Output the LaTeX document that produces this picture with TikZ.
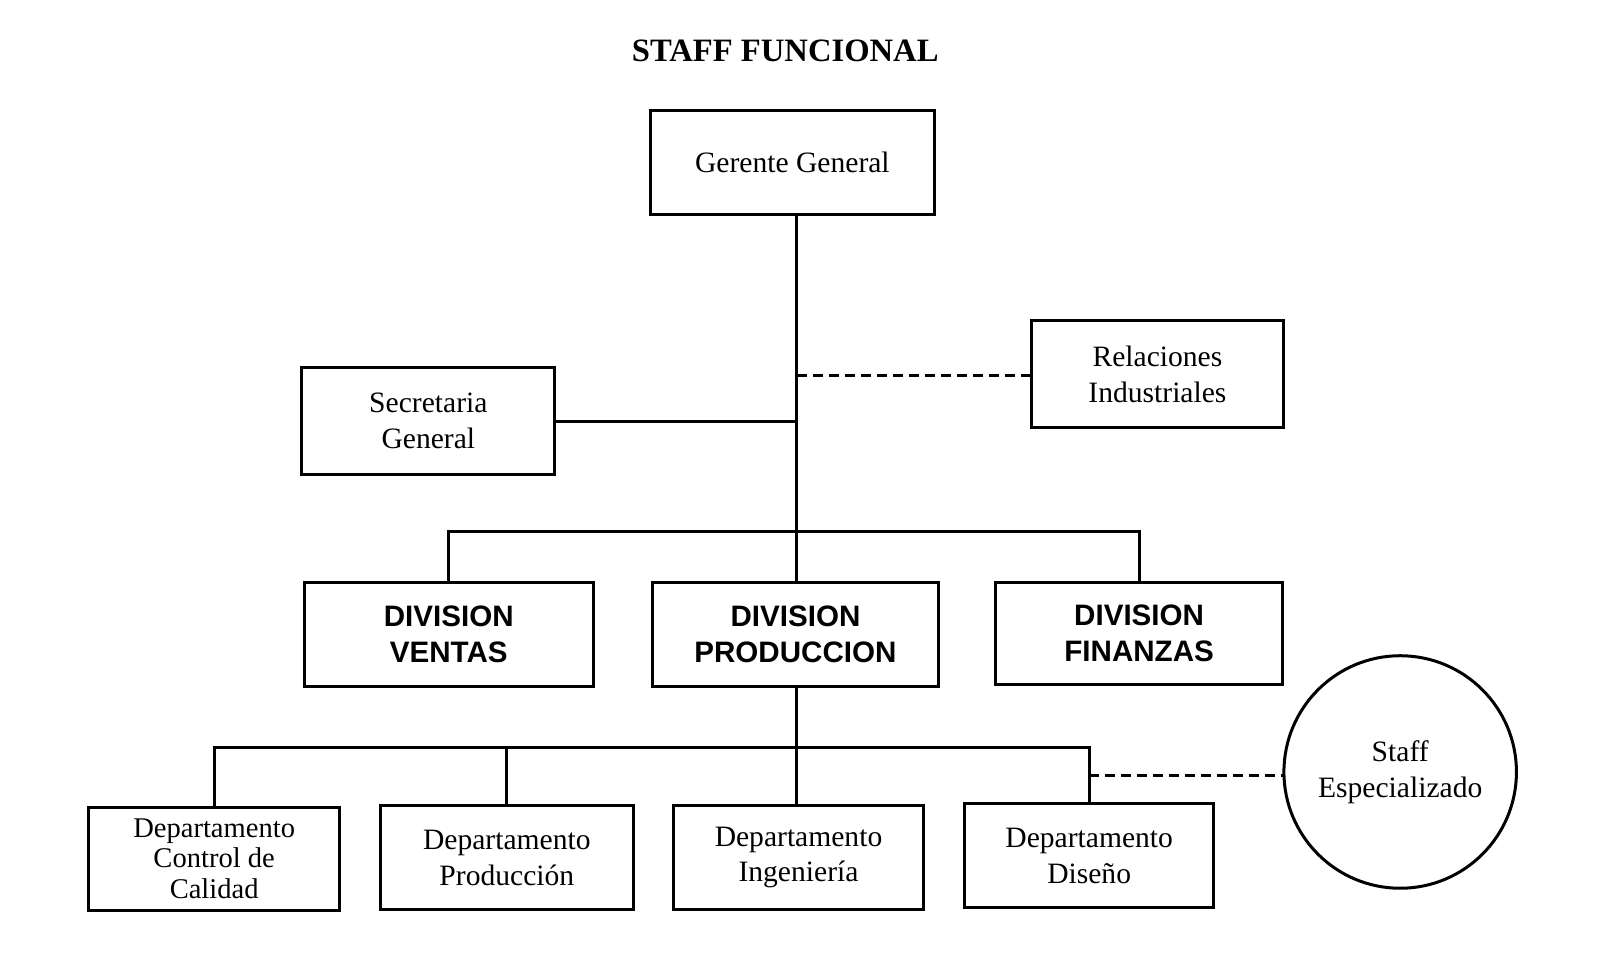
\documentclass[tikz,border=0pt]{standalone}
\usepackage{fontspec}
\setmainfont{Liberation Serif}
\newfontfamily\divfont{Liberation Sans}
\begin{document}
\begin{tikzpicture}[x=1pt,y=-1pt,scale=1.0198,every node/.style={transform shape},line width=3pt,
  bx/.style={draw,line width=3pt,minimum width=#1,inner sep=0pt,align=center,font=\fontsize{29}{35}\selectfont},
  dv/.style={draw,line width=3pt,inner sep=0pt,align=center,font=\divfont\bfseries\fontsize{29}{35}\selectfont}]
\useasboundingbox (0,0) rectangle (1566,943);
\node[font=\bfseries\fontsize{32}{38}\selectfont] (t) at (770,50) {STAFF FUNCIONAL};
\node[bx=279pt,minimum height=102pt] (gg) at (777,159) {Gerente General};
\node[bx=247pt,minimum height=105pt] (ri) at (1135,367) {Relaciones\\Industriales};
\node[bx=248pt,minimum height=105pt] (sg) at (420,413) {Secretaria\\General};
\node[dv,minimum width=283pt,minimum height=102pt] (dv) at (440,622) {DIVISION\\VENTAS};
\node[dv,minimum width=280pt,minimum height=102pt] (dp) at (780,622) {DIVISION\\PRODUCCION};
\node[dv,minimum width=281pt,minimum height=100pt] (df) at (1117,621) {DIVISION\\FINANZAS};
\node[bx=246pt,minimum height=101pt,font=\fontsize{28}{30}\selectfont] (d1) at (210,842) {Departamento\\Control de\\Calidad};
\node[bx=248pt,minimum height=102pt] (d2) at (497,841) {Departamento\\Producción};
\node[bx=246pt,minimum height=102pt] (d3) at (783,841) {Departamento\\Ingeniería};
\node[bx=244pt,minimum height=102pt] (d4) at (1068,839) {Departamento\\Diseño};
\node[draw,circle,minimum size=228pt,inner sep=0pt,align=center,font=\fontsize{29}{35}\selectfont] (st) at (1373,757) {Staff\\Especializado};
\coordinate (a) at (781,368);
\coordinate (b) at (781,413);
\coordinate (c) at (781,521);
\draw (gg.south -| c) -- (dp.north -| c);
\draw[dashed,dash pattern=on 10pt off 6pt] (a) -- (a -| ri.west);
\draw (sg.east) -- (b);
\draw (dv.north) |- (c) -| (df.north);
\coordinate (e) at (781,733);
\draw (dp.south -| e) -- (d3.north -| e);
\draw (d1.north) |- (e) -| (d4.north);
\draw (d2.north) -- (d2.north |- e);
\coordinate (f) at (1068,760);
\draw[dashed,dash pattern=on 10pt off 6pt] (f) -- (f -| st.west);
\end{tikzpicture}
\end{document}
